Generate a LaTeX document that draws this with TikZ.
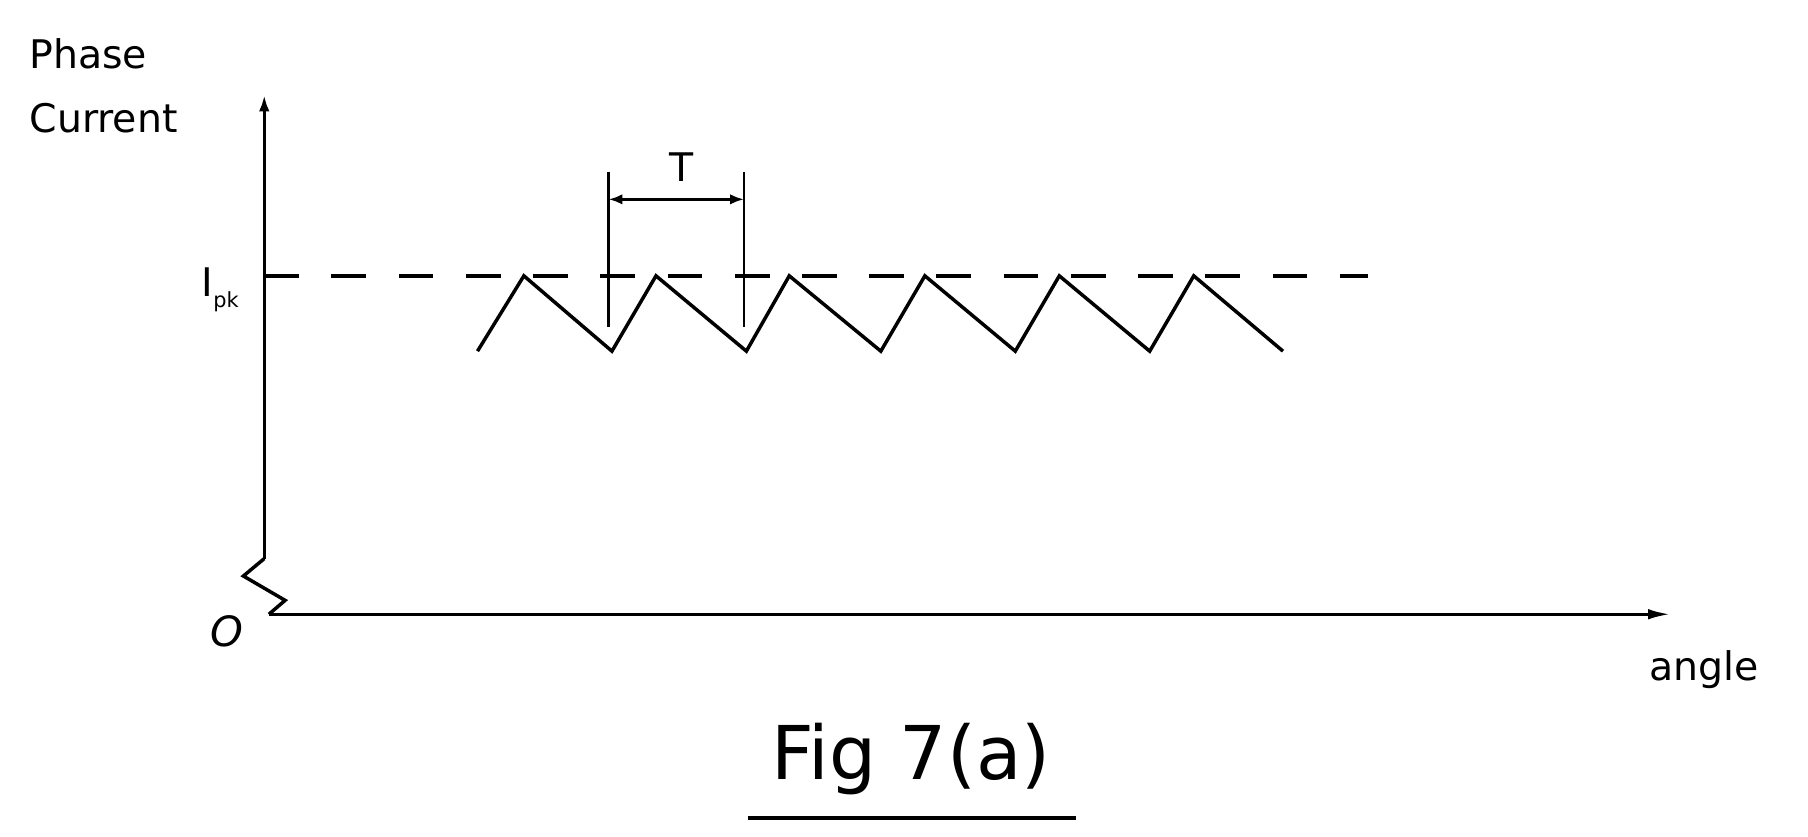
\documentclass[tikz,border=0pt]{standalone}
\usepackage{fontspec}
\setmainfont{DejaVu Sans}
\usetikzlibrary{arrows.meta}
\begin{document}
\begin{tikzpicture}[x=1pt,y=-1pt,line width=3pt,
  lbl/.style={inner sep=0pt,font=\fontsize{34}{36}\selectfont}]
\useasboundingbox (0,0) rectangle (1560,722);
\coordinate (yb) at (228,482);
\coordinate (yt) at (228,82);
\coordinate (s1) at (210,497);
\coordinate (s2) at (246,518);
\coordinate (o) at (232,530);
\coordinate (xe) at (1442,530);
\draw[-{Latex[length=14pt,width=9pt]}] (yb) -- (yt);
\draw (yb) -- (s1) -- (s2) -- (o);
\draw[-{Latex[length=20pt,width=9pt]}] (o) -- (xe);
\coordinate (d0) at (228,238); \coordinate (d1) at (1180,238);
\draw[dash pattern=on 30pt off 28pt] (d0) -- (d1);
\draw[line join=miter] (412,303) -- (452,238) -- (528,303) -- (566,238) -- (644,303) -- (681,238) -- (760,303) -- (798,238) -- (876,303) -- (914,238) -- (992,303) -- (1030,238) -- (1107,303);
\coordinate (v1t) at (525,148); \coordinate (v1b) at (525,282);
\coordinate (v2t) at (642,148); \coordinate (v2b) at (642,282);
\draw[line width=2.2pt] (v1t) -- (v1b); \draw[line width=2.2pt] (v2t) -- (v2b);
\coordinate (a1) at (525,172); \coordinate (a2) at (642,172);
\draw[line width=2.4pt,{Latex[length=12pt,width=9pt]}-{Latex[length=12pt,width=9pt]}] (a1) -- (a2);
\node[lbl] (T) at (588,144) {T};
\node[lbl,anchor=west] (ph) at (24,46) {Phase};
\node[lbl,anchor=west] (cu) at (24,102) {Current};
\node[lbl] (ip) at (190,250) {I\raisebox{-10pt}{\fontsize{18}{18}\selectfont pk}};
\node[lbl,font=\fontsize{36}{38}\selectfont\itshape] (O) at (196,545) {O};
\node[lbl] (ang) at (1470,578) {angle};
\node[inner sep=0pt,font=\fontsize{64}{66}\selectfont] (fig) at (786,655) {Fig 7(a)};
\coordinate (u1) at (645,706); \coordinate (u2) at (928,706);
\draw[line width=3.5pt] (u1) -- (u2);
\end{tikzpicture}
\end{document}
